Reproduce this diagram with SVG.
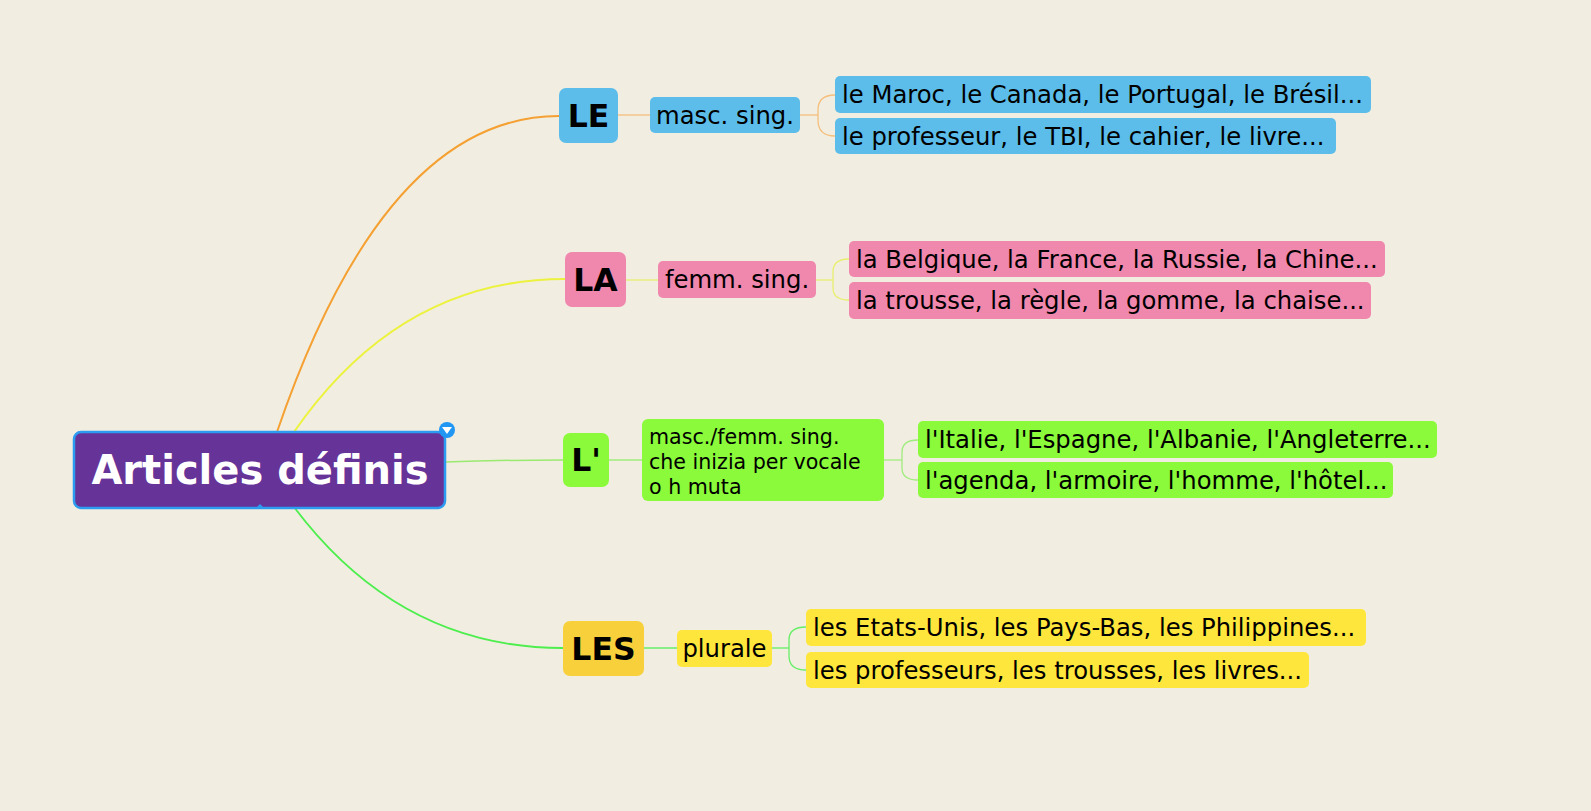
<svg xmlns="http://www.w3.org/2000/svg" width="1591" height="811" viewBox="0 0 1591 811">
<style>
text{font-family:"DejaVu Sans","Verdana",sans-serif;fill:#000}
.lbl{font-size:24.3px}
.sm{font-size:20.6px}
.art{font-size:31.5px;font-weight:bold;text-anchor:middle}
.mid{text-anchor:middle}
.blue{fill:#5CBDEA}
.pink{fill:#F087AD}
.green{fill:#8BFA3A}
.gold{fill:#F7D03B}
.yel{fill:#FFE63C}
</style>
<rect x="0" y="0" width="1591" height="811" fill="#F1EEE1"/>
<g id="connectors">
<path d="M277,432 Q385,116 559,116" stroke="#F5A032" stroke-width="2" fill="none"/>
<path d="M294,432 Q400,279 565,279" stroke="#ECF23E" stroke-width="2" fill="none"/>
<path d="M445,462 Q500,460 563,460" stroke="#9BEA70" stroke-width="1.5" fill="none"/>
<path d="M294,507 Q400,648 563,648" stroke="#4DEE4D" stroke-width="1.8" fill="none"/>
<g stroke="#F5BE7C" stroke-width="1.3" fill="none">
<path d="M618,115 H650"/>
<path d="M800,115 H818"/>
<path d="M835,95 Q818,95 818,110 V120 Q818,136 835,136"/>
</g>
<g stroke="#EAEE70" stroke-width="1.3" fill="none">
<path d="M626,280 H658"/>
<path d="M816,280 H833"/>
<path d="M849,259 Q833,259 833,272 V288 Q833,300 849,300"/>
</g>
<g stroke="#A0EC7E" stroke-width="1.3" fill="none">
<path d="M609,460 H642"/>
<path d="M884,460 H902"/>
<path d="M918,440 Q902,440 902,452 V468 Q902,480 918,480"/>
</g>
<g stroke="#66EE66" stroke-width="1.3" fill="none">
<path d="M644,648 H677"/>
<path d="M772,648 H789"/>
<path d="M806,627 Q789,627 789,640 V656 Q789,670 806,670"/>
</g>
</g>
<g id="central">
<rect x="74" y="432" width="371" height="76" rx="7" fill="#663399" stroke="#2D9BF0" stroke-width="2.5"/>
<text x="260" y="484" font-size="40" font-weight="bold" text-anchor="middle" style="fill:#fff">Articles définis</text>
<circle cx="447" cy="430" r="8" fill="#2196F3"/>
<path d="M442,427 H452 L447,434 Z" fill="#fff"/>
<path d="M255,509 L260,504 L265,509 Z" fill="#2D9BF0"/>
</g>
<g id="le">
<rect class="blue" x="559" y="88" width="59" height="55" rx="7"/>
<text class="art" x="588.5" y="127">LE</text>
</g>
<g id="le-masc">
<rect class="blue" x="650" y="97" width="150" height="36" rx="5"/>
<text class="lbl mid" x="725" y="123.5">masc. sing.</text>
</g>
<g id="le-ex1">
<rect class="blue" x="835" y="76" width="536" height="37" rx="5"/>
<text class="lbl" x="842" y="103">le Maroc, le Canada, le Portugal, le Brésil...</text>
</g>
<g id="le-ex2">
<rect class="blue" x="835" y="118" width="501" height="36" rx="5"/>
<text class="lbl" x="842" y="144.5">le professeur, le TBI, le cahier, le livre...</text>
</g>
<g id="la">
<rect class="pink" x="565" y="252" width="61" height="55" rx="7"/>
<text class="art" x="595.5" y="291">LA</text>
</g>
<g id="la-femm">
<rect class="pink" x="658" y="261" width="158" height="37" rx="5"/>
<text class="lbl mid" x="737" y="288">femm. sing.</text>
</g>
<g id="la-ex1">
<rect class="pink" x="849" y="241" width="536" height="36" rx="5"/>
<text class="lbl" x="856" y="267.5">la Belgique, la France, la Russie, la Chine...</text>
</g>
<g id="la-ex2">
<rect class="pink" x="849" y="282" width="522" height="37" rx="5"/>
<text class="lbl" x="856" y="309">la trousse, la règle, la gomme, la chaise...</text>
</g>
<g id="lapos">
<rect class="green" x="563" y="433" width="46" height="54" rx="7"/>
<text class="art" x="586" y="471">L'</text>
</g>
<g id="lapos-desc">
<rect class="green" x="642" y="419" width="242" height="82" rx="6"/>
<text class="sm" x="649" y="444">masc./femm. sing.</text>
<text class="sm" x="649" y="469">che inizia per vocale</text>
<text class="sm" x="649" y="494">o h muta</text>
</g>
<g id="lapos-ex1">
<rect class="green" x="918" y="421" width="519" height="37" rx="5"/>
<text class="lbl" x="925" y="448">l'Italie, l'Espagne, l'Albanie, l'Angleterre...</text>
</g>
<g id="lapos-ex2">
<rect class="green" x="918" y="462" width="475" height="36" rx="5"/>
<text class="lbl" x="925" y="488.5">l'agenda, l'armoire, l'homme, l'hôtel...</text>
</g>
<g id="les">
<rect class="gold" x="563" y="621" width="81" height="55" rx="7"/>
<text class="art" x="603.5" y="660">LES</text>
</g>
<g id="les-plurale">
<rect class="yel" x="677" y="630" width="95" height="37" rx="5"/>
<text class="lbl mid" x="724.5" y="657">plurale</text>
</g>
<g id="les-ex1">
<rect class="yel" x="806" y="609" width="560" height="37" rx="5"/>
<text class="lbl" x="813" y="636">les Etats-Unis, les Pays-Bas, les Philippines...</text>
</g>
<g id="les-ex2">
<rect class="yel" x="806" y="652" width="503" height="36" rx="5"/>
<text class="lbl" x="813" y="678.5">les professeurs, les trousses, les livres...</text>
</g>
</svg>
